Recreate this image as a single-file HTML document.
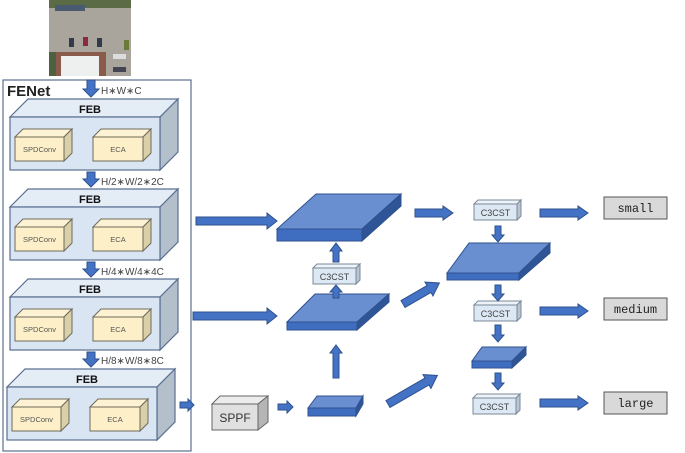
<!DOCTYPE html>
<html><head><style>
html,body{margin:0;padding:0;background:#fff;}
svg{display:block;font-family:"Liberation Sans","DejaVu Sans",sans-serif;}
.ar{fill:#4472c4;stroke:#2f528f;stroke-width:1;}
.feb-f{fill:#dae5f3;stroke:#5a6f90;stroke-width:1.2;}
.feb-t{fill:#e4ecf6;stroke:#5a6f90;stroke-width:1.2;}
.feb-r{fill:#b4bfcc;stroke:#5a6f90;stroke-width:1.2;}
.in-f{fill:#fdf0c8;stroke:#6e6a5a;stroke-width:1;}
.in-t{fill:#fdf3d4;stroke:#6e6a5a;stroke-width:1;}
.in-r{fill:#d9cfa8;stroke:#6e6a5a;stroke-width:1;}
.sl-t{fill:#6a8fd0;stroke:#2f528f;stroke-width:1;}
.sl-f{fill:#3f6dc0;stroke:#2f528f;stroke-width:1;}
.sl-r{fill:#2f5597;stroke:#2f528f;stroke-width:1;}
.c-f{fill:#dde8f5;stroke:#7a8898;stroke-width:1;}
.c-t{fill:#eef3fa;stroke:#7a8898;stroke-width:1;}
.c-r{fill:#b9c4d2;stroke:#7a8898;stroke-width:1;}
.o{fill:#d9d9d9;stroke:#555;stroke-width:1;}
.mono{font-family:"Liberation Mono","DejaVu Sans Mono",monospace;font-size:12px;fill:#222;}
</style></head><body>
<svg width="685" height="453" viewBox="0 0 685 453" xmlns="http://www.w3.org/2000/svg">
<rect x="49" y="0" width="82" height="76" fill="#a9a59c"/>
<rect x="49" y="0" width="82" height="8" fill="#5a6b45"/>
<rect x="55" y="5" width="30" height="6" fill="#4a5a70"/>
<rect x="49" y="52" width="7" height="24" fill="#4f6040"/>
<rect x="56" y="52" width="50" height="24" fill="#8a5a4a"/>
<rect x="61" y="56" width="38" height="20" fill="#eef0f0"/>
<rect x="69" y="38" width="5" height="9" fill="#333a48"/>
<rect x="83" y="37" width="5" height="9" fill="#8a2a3a"/>
<rect x="97" y="38" width="5" height="9" fill="#333a48"/>
<rect x="113" y="54" width="13" height="5" fill="#ddd"/>
<rect x="113" y="67" width="13" height="5" fill="#445"/>
<rect x="124" y="40" width="5" height="10" fill="#6a7a3a"/>
<rect x="3" y="80" width="188" height="371" fill="none" stroke="#5a6f90" stroke-width="1.2"/>
<text x="7" y="96" font-size="15" font-weight="bold" fill="#222">FENet</text>

<defs>
<g id="feb">
<polygon class="feb-t" points="0,18 18,0 168,0 150,18"/>
<polygon class="feb-r" points="150,18 168,0 168,53 150,71"/>
<rect class="feb-f" x="0" y="18" width="150" height="53"/>
<text x="80" y="14" font-size="11" font-weight="bold" text-anchor="middle" fill="#111">FEB</text>
<polygon class="in-t" points="5,38 13,30 62,30 54,38"/>
<polygon class="in-r" points="54,38 62,30 62,54 54,62"/>
<rect class="in-f" x="5" y="38" width="49" height="24"/>
<text x="29.5" y="53" font-size="7.5" text-anchor="middle" fill="#555">SPDConv</text>
<polygon class="in-t" points="83,38 91,30 141,30 133,38"/>
<polygon class="in-r" points="133,38 141,30 141,54 133,62"/>
<rect class="in-f" x="83" y="38" width="50" height="24"/>
<text x="108" y="53" font-size="7.5" text-anchor="middle" fill="#555">ECA</text>
</g>
<g id="c3">
<polygon class="c-t" points="0,4 4,0 47,0 43,4"/>
<polygon class="c-r" points="43,4 47,0 47,16 43,20"/>
<rect class="c-f" x="0" y="4" width="43" height="16"/>
<text x="21.5" y="16" font-size="9" text-anchor="middle" fill="#444">C3CST</text>
</g>
</defs>
<use href="#feb" x="10" y="99"/>
<use href="#feb" x="10" y="189"/>
<use href="#feb" x="10" y="279"/>
<use href="#feb" x="7" y="369"/>

<g class="ar">
<polygon points="87,80 95,80 95,89 99,89 91,97 83,89 87,89"/>
<polygon points="87,172 95,172 95,179 99,179 91,187 83,179 87,179"/>
<polygon points="87,262 95,262 95,269 99,269 91,277 83,269 87,269"/>
<polygon points="87,352 95,352 95,359 99,359 91,367 83,359 87,359"/>
</g>
<g font-size="10" fill="#444">
<text x="101" y="94">H∗W∗C</text>
<text x="101" y="185">H/2∗W/2∗2C</text>
<text x="101" y="275">H/4∗W/4∗4C</text>
<text x="101" y="364">H/8∗W/8∗8C</text>
</g>

<polygon points="212,404 220,396 268,396 258,404" fill="#ececec" stroke="#666"/>
<polygon points="258,404 268,396 268,422 258,430" fill="#b5b5b5" stroke="#666"/>
<rect x="212" y="404" width="46" height="26" fill="#e0e0e0" stroke="#666"/>
<text x="235" y="422" font-size="12" text-anchor="middle" fill="#333">SPPF</text>

<polygon class="sl-t" points="277,229 316,194 401,194 362,229"/>
<polygon class="sl-r" points="362,229 401,194 401,206 362,241"/>
<rect class="sl-f" x="277" y="229" width="85" height="12"/>

<polygon class="sl-t" points="287,322 315,294 389,294 357,322"/>
<polygon class="sl-r" points="357,322 389,294 389,302 357,330"/>
<rect class="sl-f" x="287" y="322" width="70" height="8"/>

<polygon class="sl-t" points="308,408 317,396 363,396 356,408"/>
<polygon class="sl-r" points="356,408 363,396 363,404 356,416"/>
<rect class="sl-f" x="308" y="408" width="48" height="8"/>

<polygon class="sl-t" points="447,273 469,243 550,243 519,273"/>
<polygon class="sl-r" points="519,273 550,243 550,253 519,280"/>
<rect class="sl-f" x="447" y="273" width="72" height="7"/>

<polygon class="sl-t" points="472,361 482,347 526,347 512,361"/>
<polygon class="sl-r" points="512,361 526,347 526,355 512,368"/>
<rect class="sl-f" x="472" y="361" width="40" height="7"/>

<use href="#c3" x="313" y="264"/>
<use href="#c3" x="474" y="200"/>
<use href="#c3" x="474" y="301"/>
<use href="#c3" x="473" y="394"/>

<rect class="o" x="604" y="197" width="63" height="22"/>
<text class="mono" x="635.5" y="212" text-anchor="middle">small</text>
<rect class="o" x="604" y="298" width="63" height="22"/>
<text class="mono" x="635.5" y="313" text-anchor="middle">medium</text>
<rect class="o" x="604" y="392" width="63" height="22"/>
<text class="mono" x="635.5" y="407" text-anchor="middle">large</text>

<g class="ar">
<g transform="translate(196,221)"><polygon points="0,-4 71,-4 71,-8 81,0 71,8 71,4 0,4"/></g>
<g transform="translate(193,316)"><polygon points="0,-4 74,-4 74,-8 84,0 74,8 74,4 0,4"/></g>
<g transform="translate(180,405)"><polygon points="0,-3 8,-3 8,-6 14,0 8,6 8,3 0,3"/></g>
<g transform="translate(278,407)"><polygon points="0,-3 9,-3 9,-6 15,0 9,6 9,3 0,3"/></g>
<g transform="translate(336,378) rotate(-90)"><polygon points="0,-3 25,-3 25,-6 33,0 25,6 25,3 0,3"/></g>
<g transform="translate(336,298) rotate(-90)"><polygon points="0,-3 6,-3 6,-6 13,0 6,6 6,3 0,3"/></g>
<g transform="translate(336,262) rotate(-90)"><polygon points="0,-3 11,-3 11,-6 19,0 11,6 11,3 0,3"/></g>
<g transform="translate(415,213)"><polygon points="0,-4 28,-4 28,-7 38,0 28,7 28,4 0,4"/></g>
<g transform="translate(403,304) rotate(-30)"><polygon points="0,-4 30,-4 30,-8 42,0 30,8 30,4 0,4"/></g>
<g transform="translate(388,404) rotate(-30)"><polygon points="0,-4 45,-4 45,-8 57,0 45,8 45,4 0,4"/></g>
<g transform="translate(498,226) rotate(90)"><polygon points="0,-3 9,-3 9,-6 16,0 9,6 9,3 0,3"/></g>
<g transform="translate(498,285) rotate(90)"><polygon points="0,-3 9,-3 9,-6 16,0 9,6 9,3 0,3"/></g>
<g transform="translate(498,325) rotate(90)"><polygon points="0,-3 10,-3 10,-6 17,0 10,6 10,3 0,3"/></g>
<g transform="translate(498,373) rotate(90)"><polygon points="0,-3 10,-3 10,-6 17,0 10,6 10,3 0,3"/></g>
<g transform="translate(540,213)"><polygon points="0,-4 38,-4 38,-7 48,0 38,7 38,4 0,4"/></g>
<g transform="translate(540,311)"><polygon points="0,-4 38,-4 38,-7 48,0 38,7 38,4 0,4"/></g>
<g transform="translate(540,403)"><polygon points="0,-4 38,-4 38,-7 48,0 38,7 38,4 0,4"/></g>
</g>
</svg>
</body></html>
